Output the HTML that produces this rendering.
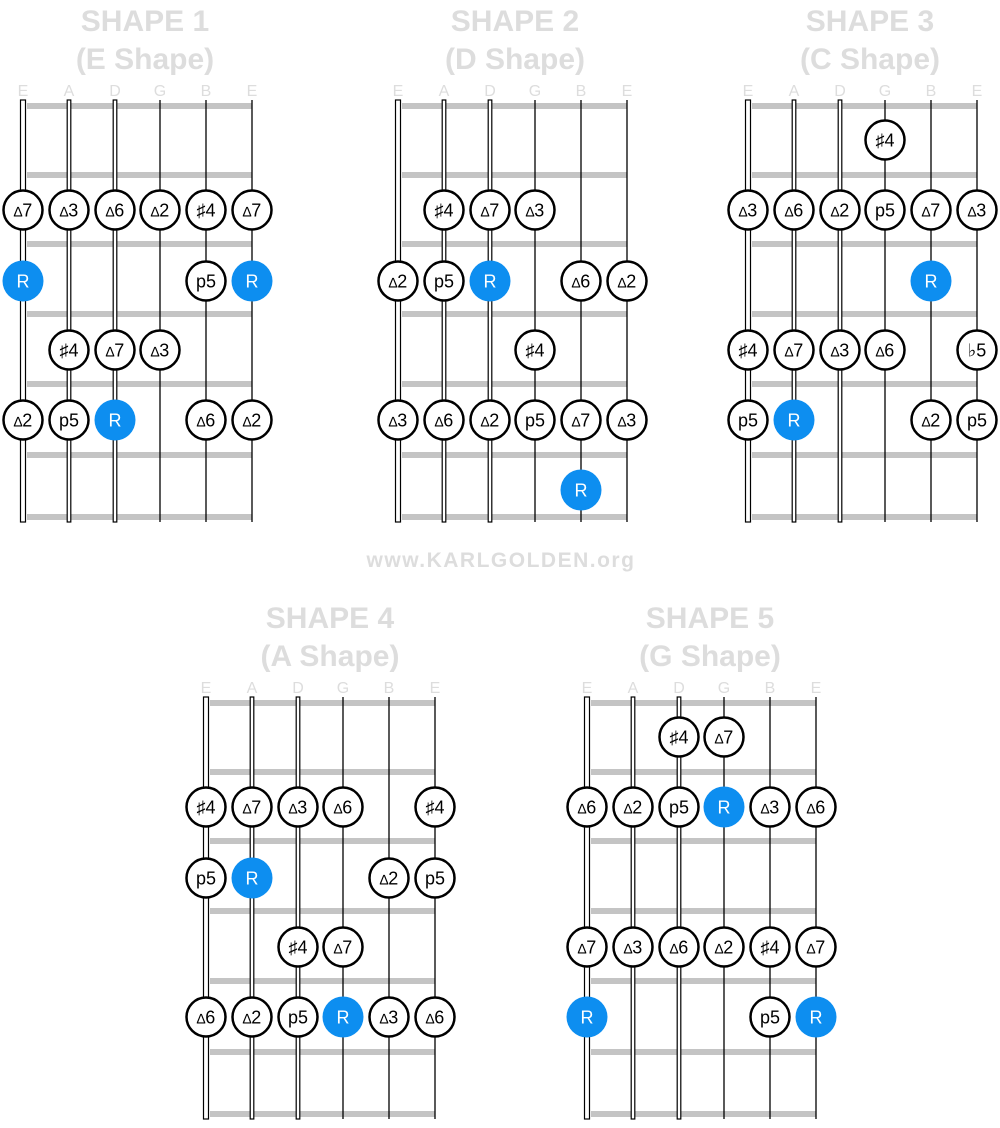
<!DOCTYPE html>
<html><head><meta charset="utf-8"><style>
html,body{margin:0;padding:0;background:#fff;}
svg{display:block;font-family:"Liberation Sans",sans-serif;}
.t{fill:#ddd;font-weight:bold;font-size:30px;text-anchor:middle;}
.lb{fill:#ddd;font-size:16px;text-anchor:middle;}
.n circle{fill:#fff;stroke:#000;stroke-width:2.5;}
.n text{font-size:18px;text-anchor:middle;fill:#000;}
.r circle{fill:#0d8ef0;}
.r text{font-size:18px;text-anchor:middle;fill:#fff;}
.d{font-size:14px;}
</style></head><body>
<svg width="1000" height="1128" viewBox="0 0 1000 1128" xmlns="http://www.w3.org/2000/svg">
<defs>
<g id="b">
<rect x="4" y="-3" width="225" height="6" fill="#c4c4c4"/>
<rect x="4" y="66" width="225" height="6" fill="#c4c4c4"/>
<rect x="4" y="135" width="225" height="6" fill="#c4c4c4"/>
<rect x="4" y="205" width="225" height="6" fill="#c4c4c4"/>
<rect x="4" y="275" width="225" height="6" fill="#c4c4c4"/>
<rect x="4" y="346" width="225" height="6" fill="#c4c4c4"/>
<rect x="4" y="408" width="225" height="6" fill="#c4c4c4"/>
<rect x="-2.5" y="-6" width="5" height="422" fill="#fff" stroke="#000" stroke-width="1.2"/>
<rect x="44.2" y="-6" width="3.6" height="422" fill="#fff" stroke="#000" stroke-width="1.2"/>
<rect x="90.2" y="-6" width="3.6" height="422" fill="#fff" stroke="#000" stroke-width="1.2"/>
<line x1="137" y1="-6" x2="137" y2="416" stroke="#000" stroke-width="1.3"/>
<line x1="183" y1="-6" x2="183" y2="416" stroke="#000" stroke-width="1.3"/>
<line x1="229" y1="-6" x2="229" y2="416" stroke="#000" stroke-width="1.3"/>
</g>
</defs>

<use href="#b" x="23" y="106"/>
<use href="#b" x="398" y="106"/>
<use href="#b" x="748" y="106"/>
<use href="#b" x="206" y="703"/>
<use href="#b" x="587" y="703"/>

<text class="t" x="145" y="31">SHAPE 1</text><text class="t" x="145" y="69">(E Shape)</text>
<text class="t" x="515" y="31">SHAPE 2</text><text class="t" x="515" y="69">(D Shape)</text>
<text class="t" x="870" y="31">SHAPE 3</text><text class="t" x="870" y="69">(C Shape)</text>
<text class="t" x="330" y="628">SHAPE 4</text><text class="t" x="330" y="666">(A Shape)</text>
<text class="t" x="710" y="628">SHAPE 5</text><text class="t" x="710" y="666">(G Shape)</text>
<text x="501" y="567" text-anchor="middle" font-size="21" font-weight="bold" letter-spacing="1.5" fill="#ddd">www.KARLGOLDEN.org</text>

<g class="lb">
<text x="23" y="96">E</text><text x="69" y="96">A</text><text x="115" y="96">D</text><text x="160" y="96">G</text><text x="206" y="96">B</text><text x="252" y="96">E</text>
<text x="398" y="96">E</text><text x="444" y="96">A</text><text x="490" y="96">D</text><text x="535" y="96">G</text><text x="581" y="96">B</text><text x="627" y="96">E</text>
<text x="748" y="96">E</text><text x="794" y="96">A</text><text x="840" y="96">D</text><text x="885" y="96">G</text><text x="931" y="96">B</text><text x="977" y="96">E</text>
<text x="206" y="693">E</text><text x="252" y="693">A</text><text x="298" y="693">D</text><text x="343" y="693">G</text><text x="389" y="693">B</text><text x="435" y="693">E</text>
<text x="587" y="693">E</text><text x="633" y="693">A</text><text x="679" y="693">D</text><text x="724" y="693">G</text><text x="770" y="693">B</text><text x="816" y="693">E</text>
</g>

<!-- Shape 1 -->
<g class="n" transform="translate(23,210)"><circle r="19.5"/><text y="6.5"><tspan class="d">∆</tspan>7</text></g>
<g class="n" transform="translate(69,210)"><circle r="19.5"/><text y="6.5"><tspan class="d">∆</tspan>3</text></g>
<g class="n" transform="translate(115,210)"><circle r="19.5"/><text y="6.5"><tspan class="d">∆</tspan>6</text></g>
<g class="n" transform="translate(160,210)"><circle r="19.5"/><text y="6.5"><tspan class="d">∆</tspan>2</text></g>
<g class="n" transform="translate(206,210)"><circle r="19.5"/><text y="6.5">♯4</text></g>
<g class="n" transform="translate(252,210)"><circle r="19.5"/><text y="6.5"><tspan class="d">∆</tspan>7</text></g>
<g class="r" transform="translate(23,281)"><circle r="20.5"/><text y="6.5">R</text></g>
<g class="n" transform="translate(206,281)"><circle r="19.5"/><text y="6.5">p5</text></g>
<g class="r" transform="translate(252,281)"><circle r="20.5"/><text y="6.5">R</text></g>
<g class="n" transform="translate(69,350)"><circle r="19.5"/><text y="6.5">♯4</text></g>
<g class="n" transform="translate(115,350)"><circle r="19.5"/><text y="6.5"><tspan class="d">∆</tspan>7</text></g>
<g class="n" transform="translate(160,350)"><circle r="19.5"/><text y="6.5"><tspan class="d">∆</tspan>3</text></g>
<g class="n" transform="translate(23,420)"><circle r="19.5"/><text y="6.5"><tspan class="d">∆</tspan>2</text></g>
<g class="n" transform="translate(69,420)"><circle r="19.5"/><text y="6.5">p5</text></g>
<g class="r" transform="translate(115,420)"><circle r="20.5"/><text y="6.5">R</text></g>
<g class="n" transform="translate(206,420)"><circle r="19.5"/><text y="6.5"><tspan class="d">∆</tspan>6</text></g>
<g class="n" transform="translate(252,420)"><circle r="19.5"/><text y="6.5"><tspan class="d">∆</tspan>2</text></g>

<!-- Shape 2 -->
<g class="n" transform="translate(444,210)"><circle r="19.5"/><text y="6.5">♯4</text></g>
<g class="n" transform="translate(490,210)"><circle r="19.5"/><text y="6.5"><tspan class="d">∆</tspan>7</text></g>
<g class="n" transform="translate(535,210)"><circle r="19.5"/><text y="6.5"><tspan class="d">∆</tspan>3</text></g>
<g class="n" transform="translate(398,281)"><circle r="19.5"/><text y="6.5"><tspan class="d">∆</tspan>2</text></g>
<g class="n" transform="translate(444,281)"><circle r="19.5"/><text y="6.5">p5</text></g>
<g class="r" transform="translate(490,281)"><circle r="20.5"/><text y="6.5">R</text></g>
<g class="n" transform="translate(581,281)"><circle r="19.5"/><text y="6.5"><tspan class="d">∆</tspan>6</text></g>
<g class="n" transform="translate(627,281)"><circle r="19.5"/><text y="6.5"><tspan class="d">∆</tspan>2</text></g>
<g class="n" transform="translate(535,350)"><circle r="19.5"/><text y="6.5">♯4</text></g>
<g class="n" transform="translate(398,420)"><circle r="19.5"/><text y="6.5"><tspan class="d">∆</tspan>3</text></g>
<g class="n" transform="translate(444,420)"><circle r="19.5"/><text y="6.5"><tspan class="d">∆</tspan>6</text></g>
<g class="n" transform="translate(490,420)"><circle r="19.5"/><text y="6.5"><tspan class="d">∆</tspan>2</text></g>
<g class="n" transform="translate(535,420)"><circle r="19.5"/><text y="6.5">p5</text></g>
<g class="n" transform="translate(581,420)"><circle r="19.5"/><text y="6.5"><tspan class="d">∆</tspan>7</text></g>
<g class="n" transform="translate(627,420)"><circle r="19.5"/><text y="6.5"><tspan class="d">∆</tspan>3</text></g>
<g class="r" transform="translate(581,490)"><circle r="20.5"/><text y="6.5">R</text></g>

<!-- Shape 3 -->
<g class="n" transform="translate(885,140)"><circle r="19.5"/><text y="6.5">♯4</text></g>
<g class="n" transform="translate(748,210)"><circle r="19.5"/><text y="6.5"><tspan class="d">∆</tspan>3</text></g>
<g class="n" transform="translate(794,210)"><circle r="19.5"/><text y="6.5"><tspan class="d">∆</tspan>6</text></g>
<g class="n" transform="translate(840,210)"><circle r="19.5"/><text y="6.5"><tspan class="d">∆</tspan>2</text></g>
<g class="n" transform="translate(885,210)"><circle r="19.5"/><text y="6.5">p5</text></g>
<g class="n" transform="translate(931,210)"><circle r="19.5"/><text y="6.5"><tspan class="d">∆</tspan>7</text></g>
<g class="n" transform="translate(977,210)"><circle r="19.5"/><text y="6.5"><tspan class="d">∆</tspan>3</text></g>
<g class="r" transform="translate(931,281)"><circle r="20.5"/><text y="6.5">R</text></g>
<g class="n" transform="translate(748,350)"><circle r="19.5"/><text y="6.5">♯4</text></g>
<g class="n" transform="translate(794,350)"><circle r="19.5"/><text y="6.5"><tspan class="d">∆</tspan>7</text></g>
<g class="n" transform="translate(840,350)"><circle r="19.5"/><text y="6.5"><tspan class="d">∆</tspan>3</text></g>
<g class="n" transform="translate(885,350)"><circle r="19.5"/><text y="6.5"><tspan class="d">∆</tspan>6</text></g>
<g class="n" transform="translate(977,350)"><circle r="19.5"/><text y="6.5">♭5</text></g>
<g class="n" transform="translate(748,420)"><circle r="19.5"/><text y="6.5">p5</text></g>
<g class="r" transform="translate(794,420)"><circle r="20.5"/><text y="6.5">R</text></g>
<g class="n" transform="translate(931,420)"><circle r="19.5"/><text y="6.5"><tspan class="d">∆</tspan>2</text></g>
<g class="n" transform="translate(977,420)"><circle r="19.5"/><text y="6.5">p5</text></g>

<!-- Shape 4 -->
<g class="n" transform="translate(206,807)"><circle r="19.5"/><text y="6.5">♯4</text></g>
<g class="n" transform="translate(252,807)"><circle r="19.5"/><text y="6.5"><tspan class="d">∆</tspan>7</text></g>
<g class="n" transform="translate(298,807)"><circle r="19.5"/><text y="6.5"><tspan class="d">∆</tspan>3</text></g>
<g class="n" transform="translate(343,807)"><circle r="19.5"/><text y="6.5"><tspan class="d">∆</tspan>6</text></g>
<g class="n" transform="translate(435,807)"><circle r="19.5"/><text y="6.5">♯4</text></g>
<g class="n" transform="translate(206,878)"><circle r="19.5"/><text y="6.5">p5</text></g>
<g class="r" transform="translate(252,878)"><circle r="20.5"/><text y="6.5">R</text></g>
<g class="n" transform="translate(389,878)"><circle r="19.5"/><text y="6.5"><tspan class="d">∆</tspan>2</text></g>
<g class="n" transform="translate(435,878)"><circle r="19.5"/><text y="6.5">p5</text></g>
<g class="n" transform="translate(298,947)"><circle r="19.5"/><text y="6.5">♯4</text></g>
<g class="n" transform="translate(343,947)"><circle r="19.5"/><text y="6.5"><tspan class="d">∆</tspan>7</text></g>
<g class="n" transform="translate(206,1017)"><circle r="19.5"/><text y="6.5"><tspan class="d">∆</tspan>6</text></g>
<g class="n" transform="translate(252,1017)"><circle r="19.5"/><text y="6.5"><tspan class="d">∆</tspan>2</text></g>
<g class="n" transform="translate(298,1017)"><circle r="19.5"/><text y="6.5">p5</text></g>
<g class="r" transform="translate(343,1017)"><circle r="20.5"/><text y="6.5">R</text></g>
<g class="n" transform="translate(389,1017)"><circle r="19.5"/><text y="6.5"><tspan class="d">∆</tspan>3</text></g>
<g class="n" transform="translate(435,1017)"><circle r="19.5"/><text y="6.5"><tspan class="d">∆</tspan>6</text></g>

<!-- Shape 5 -->
<g class="n" transform="translate(679,737)"><circle r="19.5"/><text y="6.5">♯4</text></g>
<g class="n" transform="translate(724,737)"><circle r="19.5"/><text y="6.5"><tspan class="d">∆</tspan>7</text></g>
<g class="n" transform="translate(587,807)"><circle r="19.5"/><text y="6.5"><tspan class="d">∆</tspan>6</text></g>
<g class="n" transform="translate(633,807)"><circle r="19.5"/><text y="6.5"><tspan class="d">∆</tspan>2</text></g>
<g class="n" transform="translate(679,807)"><circle r="19.5"/><text y="6.5">p5</text></g>
<g class="r" transform="translate(724,807)"><circle r="20.5"/><text y="6.5">R</text></g>
<g class="n" transform="translate(770,807)"><circle r="19.5"/><text y="6.5"><tspan class="d">∆</tspan>3</text></g>
<g class="n" transform="translate(816,807)"><circle r="19.5"/><text y="6.5"><tspan class="d">∆</tspan>6</text></g>
<g class="n" transform="translate(587,947)"><circle r="19.5"/><text y="6.5"><tspan class="d">∆</tspan>7</text></g>
<g class="n" transform="translate(633,947)"><circle r="19.5"/><text y="6.5"><tspan class="d">∆</tspan>3</text></g>
<g class="n" transform="translate(679,947)"><circle r="19.5"/><text y="6.5"><tspan class="d">∆</tspan>6</text></g>
<g class="n" transform="translate(724,947)"><circle r="19.5"/><text y="6.5"><tspan class="d">∆</tspan>2</text></g>
<g class="n" transform="translate(770,947)"><circle r="19.5"/><text y="6.5">♯4</text></g>
<g class="n" transform="translate(816,947)"><circle r="19.5"/><text y="6.5"><tspan class="d">∆</tspan>7</text></g>
<g class="r" transform="translate(587,1017)"><circle r="20.5"/><text y="6.5">R</text></g>
<g class="n" transform="translate(770,1017)"><circle r="19.5"/><text y="6.5">p5</text></g>
<g class="r" transform="translate(816,1017)"><circle r="20.5"/><text y="6.5">R</text></g>
</svg>
</body></html>
